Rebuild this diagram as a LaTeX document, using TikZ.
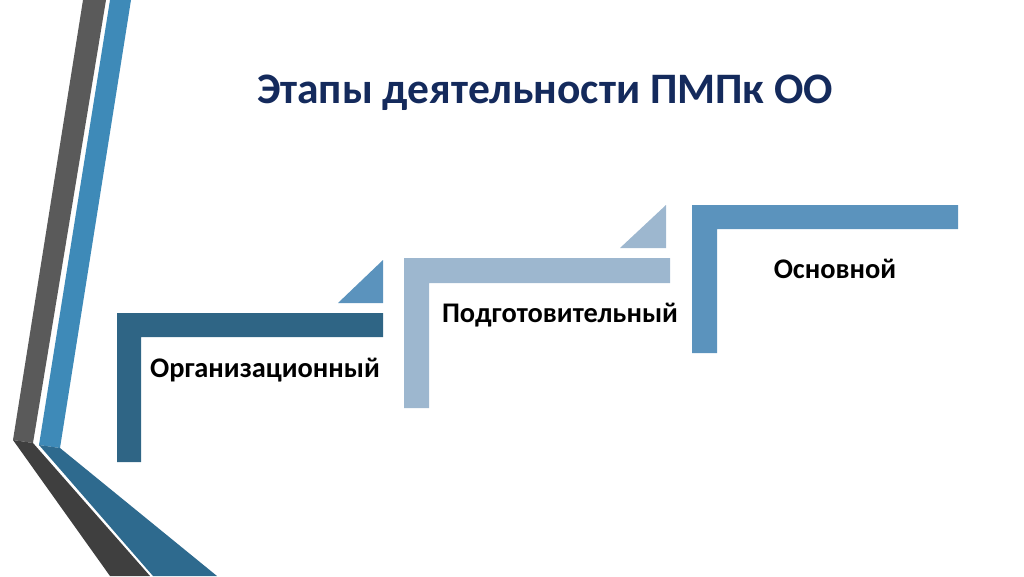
\documentclass[tikz,border=0pt]{standalone}
\usepackage{fontspec}
\setmainfont{Carlito}
\definecolor{gA}{HTML}{5A5A5A}
\definecolor{gB}{HTML}{3F3F3F}
\definecolor{bA}{HTML}{3E8AB8}
\definecolor{bB}{HTML}{2E6A8E}
\definecolor{c1}{HTML}{2F6585}
\definecolor{c2}{HTML}{9DB7CF}
\definecolor{c3}{HTML}{5B93BD}
\definecolor{navy}{HTML}{142A5C}
\begin{document}
\begin{tikzpicture}[x=1pt,y=-1pt,
  lbl/.style={font=\bfseries\fontsize{28.4}{32}\selectfont,text=black}]
\useasboundingbox (0,0) rectangle (1024,576);
% left decoration
\fill[gA] (83,0) -- (106,0) -- (33,443) -- (13,440) -- cycle;
\fill[bA] (110,0) -- (131,0) -- (60,448) -- (39,445) -- cycle;
\fill[gB] (13,440) -- (33,443) -- (150,576) -- (110,576) -- cycle;
\fill[bB] (39,445) -- (60,448) -- (217,576) -- (153,576) -- cycle;
% title
\node[font=\bfseries\fontsize{43.5}{50}\selectfont,text=navy] (title) at (545,93) {Этапы деятельности ПМПк ОО};
% block 1
\fill[c1] (117,313) -- (383,313) -- (383,337) -- (141,337) -- (141,462) -- (117,462) -- cycle;
\fill[c3] (338,303) -- (383,303) -- (383,260) -- cycle;
\node[lbl] (t1) at (265,370) {Организационный};
% block 2
\fill[c2] (404,258) -- (670,258) -- (670,283) -- (429,283) -- (429,408) -- (404,408) -- cycle;
\fill[c2] (620,248) -- (666,248) -- (666,205) -- cycle;
\node[lbl] (t2) at (560,315) {Подготовительный};
% block 3
\fill[c3] (692,205) -- (958,205) -- (958,229) -- (717,229) -- (717,353) -- (692,353) -- cycle;
\node[lbl] (t3) at (835,269) {Основной};
\end{tikzpicture}
\end{document}
